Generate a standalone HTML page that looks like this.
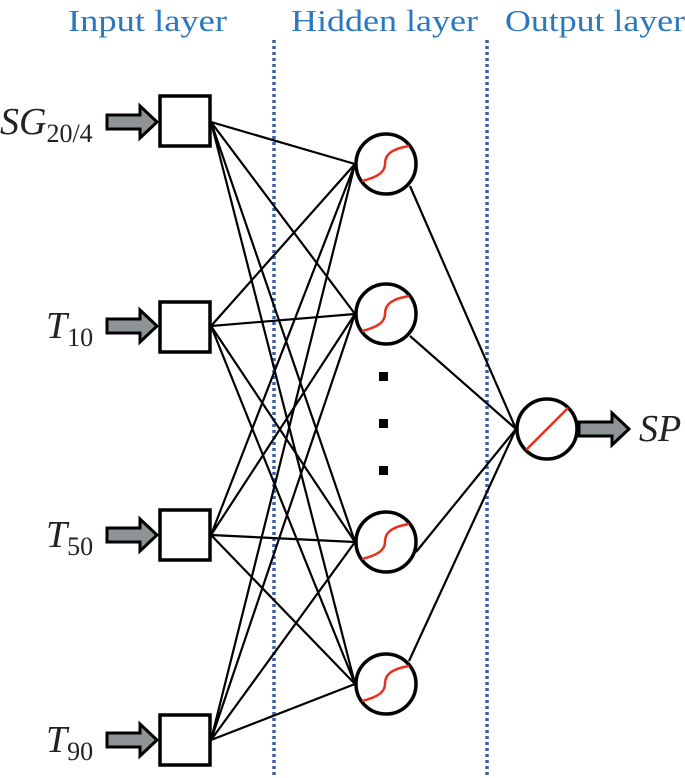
<!DOCTYPE html>
<html><head><meta charset="utf-8"><style>html,body{margin:0;padding:0;background:#fff}svg{display:block}</style></head>
<body>
<svg width="685" height="778" viewBox="0 0 685 778" xmlns="http://www.w3.org/2000/svg">
<g font-family="Liberation Serif, serif" font-size="31" fill="#2a78bf">
<text x="68" y="31" textLength="159" lengthAdjust="spacingAndGlyphs">Input layer</text>
<text x="291" y="31" textLength="187" lengthAdjust="spacingAndGlyphs">Hidden layer</text>
<text x="505" y="31" textLength="180" lengthAdjust="spacingAndGlyphs">Output layer</text>
</g>
<g stroke="#3a62a0" stroke-width="3.5" stroke-dasharray="3,3">
<line x1="274" y1="40" x2="274" y2="778"/>
<line x1="487" y1="40" x2="487" y2="778"/>
</g>
<g stroke="#000" stroke-width="2.2">
<!-- input to hidden -->
<path d="M211 122L355 164M211 122L355 314M211 122L355 542M211 122L355 684
M211 326L355 164M211 326L355 314M211 326L355 542M211 326L355 684
M211 535L355 164M211 535L355 314M211 535L355 542M211 535L355 684
M211 740L355 164M211 740L355 314M211 740L355 542M211 740L355 684"/>
<path d="M410 186L516 429M410 336L516 429M416 552L516 429M409 661L516 429"/>
</g>
<g fill="#fff" stroke="#000" stroke-width="3.5">
<rect x="160" y="96" width="50" height="50"/>
<rect x="160" y="302" width="50" height="50"/>
<rect x="160" y="510" width="50" height="50"/>
<rect x="160" y="715" width="50" height="50"/>
<circle cx="386" cy="164" r="30"/>
<circle cx="386" cy="314" r="30"/>
<circle cx="386" cy="542" r="30"/>
<circle cx="386" cy="684" r="30"/>
<circle cx="547" cy="429" r="30"/>
</g>
<g fill="none" stroke="#e8301e" stroke-width="2.5">
<path d="M362 181C378 177 385 172 385 164C385 154 392 149 409 146"/>
<path d="M362 331C378 327 385 322 385 314C385 304 392 299 409 296"/>
<path d="M362 559C378 555 385 550 385 542C385 532 392 527 409 524"/>
<path d="M362 701C378 697 385 692 385 684C385 674 392 669 409 666"/>
<line x1="526" y1="450" x2="568" y2="408"/>
</g>
<g fill="#000">
<rect x="379" y="372" width="9" height="9"/>
<rect x="379" y="419" width="9" height="9"/>
<rect x="379" y="466" width="9" height="9"/>
</g>
<g fill="#8e9396" stroke="#000" stroke-width="3" stroke-linejoin="miter">
<path d="M107 115h33v-9l17 16l-17 16v-9h-33z"/>
<path d="M107 319h33v-9l17 16l-17 16v-9h-33z"/>
<path d="M107 528h33v-9l17 16l-17 16v-9h-33z"/>
<path d="M107 733h33v-9l17 16l-17 16v-9h-33z"/>
<path d="M579 422h33v-9l17 16l-17 16v-9h-33z"/>
</g>
<g font-family="Liberation Serif, serif" fill="#222">
<text x="0" y="134" font-size="38" font-style="italic">SG<tspan font-size="26" font-style="normal" dy="8">20/4</tspan></text>
<text x="46" y="338" font-size="38" font-style="italic">T<tspan font-size="26" font-style="normal" dy="8">10</tspan></text>
<text x="46" y="547" font-size="38" font-style="italic">T<tspan font-size="26" font-style="normal" dy="8">50</tspan></text>
<text x="46" y="752" font-size="38" font-style="italic">T<tspan font-size="26" font-style="normal" dy="8">90</tspan></text>
<text x="639" y="441" font-size="38" font-style="italic">SP</text>
</g>
</svg>
</body></html>
